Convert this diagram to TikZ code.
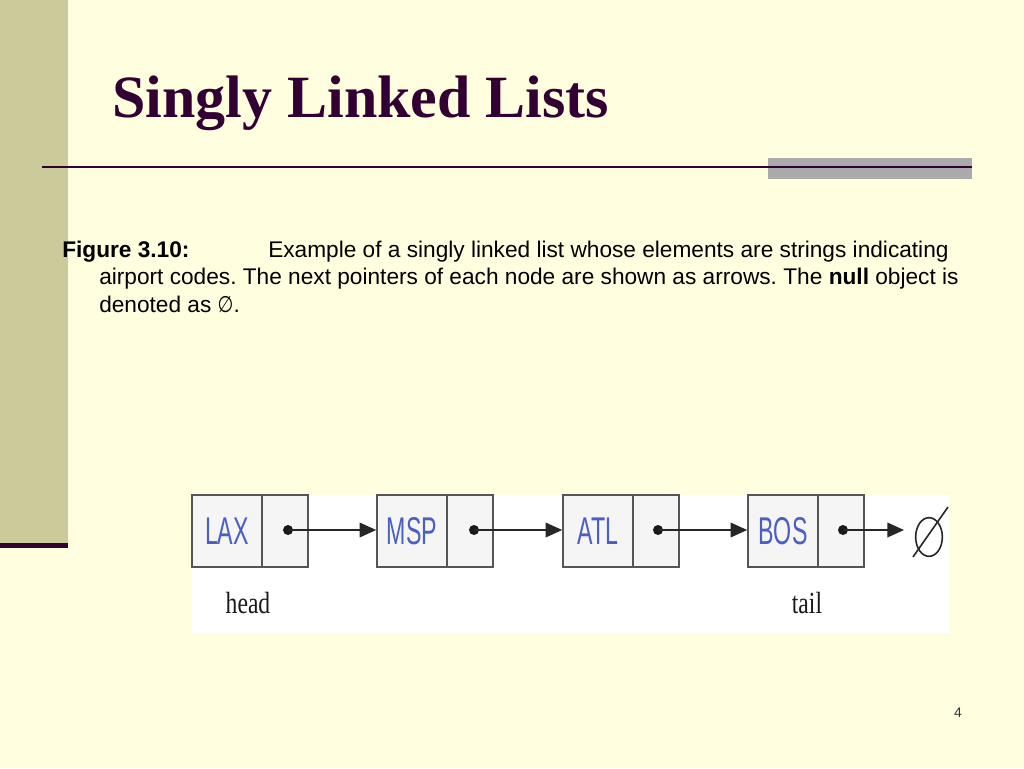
\documentclass[tikz,border=0pt]{standalone}
\usepackage{fontspec}
\setmainfont{Liberation Sans}
\newfontfamily\serifbf{Liberation Serif}
\newfontfamily\dejavu{DejaVu Sans}
\usetikzlibrary{arrows.meta,shapes.geometric}
\frenchspacing
\definecolor{bgyellow}{HTML}{FFFEDF}
\definecolor{sidebar}{HTML}{CACA9A}
\definecolor{plum}{HTML}{330033}
\definecolor{barGray}{HTML}{AAAAAA}
\definecolor{cellblue}{HTML}{4A5EC4}
\definecolor{cellline}{HTML}{555555}
\tikzset{
  datacell/.style={draw=cellline, line width=1.2pt, fill=white!96!black, minimum width=52.5pt, minimum height=54pt, inner sep=0pt, text=cellblue, font=\fontsize{29}{29}\selectfont},
  ptrcell/.style={draw=cellline, line width=1.2pt, fill=white!96!black, minimum width=34.5pt, minimum height=54pt, inner sep=0pt},
  ptrdot/.style={circle, fill=black!90, inner sep=0pt, minimum size=7.5pt},
  arr/.style={line width=1.2pt, draw=black!85, -{Triangle[length=12.5pt, width=11pt]}},
  lbl/.style={font=\serifbf\fontsize{23}{23}\selectfont, text=black!90, inner sep=0pt, anchor=base},
  bodytxt/.style={font=\fontsize{17}{20}\selectfont, text=black, inner sep=0pt, anchor=base west},
}
\begin{document}
\begin{tikzpicture}[x=0.75pt, y=-0.75pt]
\useasboundingbox (0,0) rectangle (1024,768);
\fill[bgyellow] (0,0) rectangle (1024,768);
% left sidebar
\fill[sidebar] (0,0) rectangle (68,543);
\fill[plum] (0,543) rectangle (68,548);
% title rule
\fill[barGray] (768,158) rectangle (972,179);
\draw[plum, line width=2pt] (42,167) -- (972,167);
% title
\node[anchor=base west, inner sep=0pt, text=plum, font=\serifbf\bfseries\fontsize{45}{45}\selectfont] (title) at (112,117) {Singly Linked Lists};
% caption text
\node[bodytxt] (figlbl) at (62,257) {\bfseries Figure 3.10:};
\node[bodytxt] (line1) at (268,257) {Example of a singly linked list whose elements are strings indicating};
\node[bodytxt] (line2) at (99,284) {airport codes. The next pointers of each node are shown as arrows. The \textbf{null} object is};
\node[bodytxt] (line3) at (99,312) {denoted as {\dejavu\scalebox{0.8}[1]{∅}}.};
% figure background
\fill[white] (192,495) rectangle (950,633);
% cells
\node[datacell] (lax) at (227,531) {\scalebox{0.6}[1]{LAX}};
\node[ptrcell] (plax) at (285,531) {};
\node[datacell] (msp) at (412,531) {\scalebox{0.6}[1]{MSP}};
\node[ptrcell] (pmsp) at (470,531) {};
\node[datacell] (atl) at (598,531) {\scalebox{0.6}[1]{ATL}};
\node[ptrcell] (patl) at (656,531) {};
\node[datacell] (bos) at (783,531) {\scalebox{0.6}[1]{BOS}};
\node[ptrcell] (pbos) at (841,531) {};
% dots
\node[ptrdot] (d1) at (288,530) {};
\node[ptrdot] (d2) at (474,530) {};
\node[ptrdot] (d3) at (658,530) {};
\node[ptrdot] (d4) at (843,530) {};
% null symbol
\node[ellipse, draw=black!85, line width=1.2pt, minimum width=20pt, minimum height=29pt, inner sep=0pt] (null) at (929,537) {};
\coordinate (slashA) at (913,557);
\coordinate (slashB) at (948,507);
\draw[line width=1.2pt, black!85] (slashA) -- (slashB);
\coordinate (nullin) at (904,530);
% arrows
\draw[arr] (d1.center) -- (msp.west |- d1);
\draw[arr] (d2.center) -- (atl.west |- d2);
\draw[arr] (d3.center) -- (bos.west |- d3);
\draw[arr] (d4.center) -- (nullin);
% labels
\node[lbl] (head) at (248,613) {\scalebox{0.77}[1]{head}};
\node[lbl] (tail) at (807,613) {\scalebox{0.77}[1]{tail}};
% page number
\node[inner sep=0pt, font=\fontsize{10.5}{12}\selectfont, text=black!80] (pagenum) at (958,713) {4};
\end{tikzpicture}
\end{document}
